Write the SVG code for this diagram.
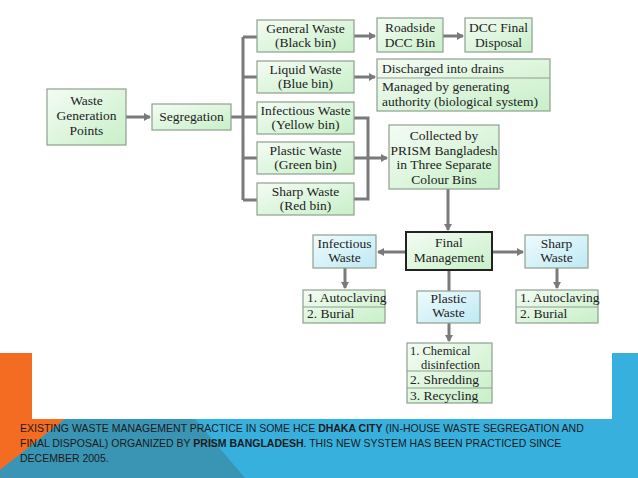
<svg xmlns="http://www.w3.org/2000/svg" width="638" height="478" viewBox="0 0 638 478">
<defs>
<linearGradient id="g" x1="0" y1="0" x2="1" y2="1"><stop offset="0" stop-color="#f4fcf4"/><stop offset="1" stop-color="#c8efc8"/></linearGradient>
<linearGradient id="b" x1="0" y1="0" x2="1" y2="1"><stop offset="0" stop-color="#eefbfd"/><stop offset="1" stop-color="#bfe9f3"/></linearGradient>
<marker id="a" markerWidth="8" markerHeight="8" refX="6" refY="4" orient="auto" markerUnits="userSpaceOnUse"><path d="M0,0 L7,4 L0,8 z" fill="#7a7a7a"/></marker>
<style>
.n{fill:url(#g);stroke:#8f9f8f;stroke-width:1.2}
.bl{fill:url(#b);stroke:#8f9f8f;stroke-width:1.2}
.t{font-family:"Liberation Serif",serif;font-size:13.5px;fill:#222;text-anchor:middle}
.l{font-family:"Liberation Serif",serif;font-size:13.5px;fill:#222}
.s{font-family:"Liberation Serif",serif;font-size:12.5px;fill:#222}
.c{fill:none;stroke:#7a7a7a;stroke-width:3}
.f{font-family:"Liberation Sans",Arial,sans-serif;font-size:10.5px;fill:#1a1a1a}
</style>
</defs>
<rect width="638" height="478" fill="#fff"/>
<rect x="0" y="353" width="32" height="70" fill="#f36c21"/>
<rect x="612" y="353" width="26" height="70" fill="#38b0de"/>
<rect x="0" y="419" width="638" height="59" fill="#38b0de"/>
<polygon points="0,419 65,419 0,470" fill="#f36c21"/>
<polygon points="65,419 195,419 245,478 0,478 0,470" fill="#3a95b4"/>
<g id="connectors">
<path class="c" d="M126,117 H150" marker-end="url(#a)"/>
<path class="c" d="M231,117 H257 M243,37 V200 M243,37 H257 M243,77 H257 M243,158 H257 M243,200 H257"/>
<path class="c" d="M354,36 H375" marker-end="url(#a)"/>
<path class="c" d="M443,36 H463" marker-end="url(#a)"/>
<path class="c" d="M354,77 H375" marker-end="url(#a)"/>
<path class="c" d="M354,118 H368 V199 H354 M354,158 H387" marker-end="url(#a)"/>
<path class="c" d="M448,189 V230" marker-end="url(#a)"/>
<path class="c" d="M406,252 H378" marker-end="url(#a)"/>
<path class="c" d="M492,252 H523" marker-end="url(#a)"/>
<path class="c" d="M345,268 V288" marker-end="url(#a)"/>
<path class="c" d="M557,268 V288" marker-end="url(#a)"/>
<path class="c" d="M449,270 V291"/>
<path class="c" d="M449,323 V341" marker-end="url(#a)"/>
</g>
<g id="wgp"><rect class="n" x="47" y="89" width="79" height="56"/><text class="t" x="86.5" y="105">Waste</text><text class="t" x="86.5" y="120">Generation</text><text class="t" x="86.5" y="135">Points</text></g>
<g id="seg"><rect class="n" x="152" y="104" width="79" height="26"/><text class="t" x="191.5" y="121">Segregation</text></g>
<g id="general"><rect class="n" x="257" y="20" width="97" height="32"/><text class="t" x="305.5" y="33">General Waste</text><text class="t" x="305.5" y="47">(Black bin)</text></g>
<g id="liquid"><rect class="n" x="257" y="61" width="97" height="32"/><text class="t" x="305.5" y="74">Liquid Waste</text><text class="t" x="305.5" y="88">(Blue bin)</text></g>
<g id="infectious"><rect class="n" x="257" y="102" width="97" height="32"/><text class="t" x="305.5" y="115">Infectious Waste</text><text class="t" x="305.5" y="129">(Yellow bin)</text></g>
<g id="plastic"><rect class="n" x="257" y="142" width="97" height="32"/><text class="t" x="305.5" y="155">Plastic Waste</text><text class="t" x="305.5" y="169">(Green bin)</text></g>
<g id="sharp"><rect class="n" x="257" y="183" width="97" height="32"/><text class="t" x="305.5" y="196">Sharp Waste</text><text class="t" x="305.5" y="210">(Red bin)</text></g>
<g id="roadside"><rect class="n" x="377" y="18" width="66" height="34"/><text class="t" x="410" y="32">Roadside</text><text class="t" x="410" y="47">DCC Bin</text></g>
<g id="dcc"><rect class="n" x="465" y="18" width="67" height="34"/><text class="t" x="498.5" y="32">DCC Final</text><text class="t" x="498.5" y="47">Disposal</text></g>
<g id="drains"><rect class="n" x="377" y="59" width="173" height="52"/><line x1="377" y1="78" x2="550" y2="78" stroke="#8f9f8f"/><text class="l" x="382" y="73">Discharged into drains</text><text class="l" x="382" y="91">Managed by generating</text><text class="l" x="382" y="106">authority (biological system)</text></g>
<g id="collected"><rect class="n" x="389" y="125" width="110" height="64"/><text class="t" x="444" y="140">Collected by</text><text class="t" x="444" y="155">PRISM Bangladesh</text><text class="t" x="444" y="169">in Three Separate</text><text class="t" x="444" y="184">Colour Bins</text></g>
<g id="final"><rect x="406" y="232" width="86" height="38" fill="url(#g)" stroke="#222" stroke-width="2"/><text class="t" x="449" y="247">Final</text><text class="t" x="449" y="262">Management</text></g>
<g id="inf2"><rect class="bl" x="313" y="235" width="63" height="33"/><text class="t" x="344.5" y="248">Infectious</text><text class="t" x="344.5" y="262">Waste</text></g>
<g id="sharp2"><rect class="bl" x="525" y="235" width="63" height="33"/><text class="t" x="556.5" y="248">Sharp</text><text class="t" x="556.5" y="262">Waste</text></g>
<g id="plastic2"><rect class="bl" x="417" y="291" width="63" height="32"/><text class="t" x="448.5" y="303">Plastic</text><text class="t" x="448.5" y="317">Waste</text></g>
<g id="list1"><rect class="n" x="303" y="290" width="82" height="33"/><line x1="303" y1="307" x2="385" y2="307" stroke="#8f9f8f"/><text class="l" x="307" y="302">1. Autoclaving</text><text class="l" x="307" y="318">2. Burial</text></g>
<g id="list2"><rect class="n" x="516" y="290" width="82" height="33"/><line x1="516" y1="307" x2="598" y2="307" stroke="#8f9f8f"/><text class="l" x="520" y="302">1. Autoclaving</text><text class="l" x="520" y="318">2. Burial</text></g>
<g id="list3"><rect class="n" x="407" y="343" width="85" height="60"/><line x1="407" y1="371" x2="492" y2="371" stroke="#8f9f8f"/><line x1="407" y1="388" x2="492" y2="388" stroke="#8f9f8f"/><text class="s" x="410" y="355">1. Chemical</text><text class="s" x="421" y="368.5">disinfection</text><text class="l" x="410" y="384">2. Shredding</text><text class="l" x="410" y="400">3. Recycling</text></g>
<text class="f" x="20" y="432">EXISTING WASTE MANAGEMENT PRACTICE IN SOME HCE <tspan font-weight="bold">DHAKA CITY</tspan> (IN-HOUSE WASTE SEGREGATION AND</text>
<text class="f" x="20" y="447">FINAL DISPOSAL) ORGANIZED BY <tspan font-weight="bold">PRISM BANGLADESH</tspan>. THIS NEW SYSTEM HAS BEEN PRACTICED SINCE</text>
<text class="f" x="20" y="462">DECEMBER 2005.</text>
</svg>
